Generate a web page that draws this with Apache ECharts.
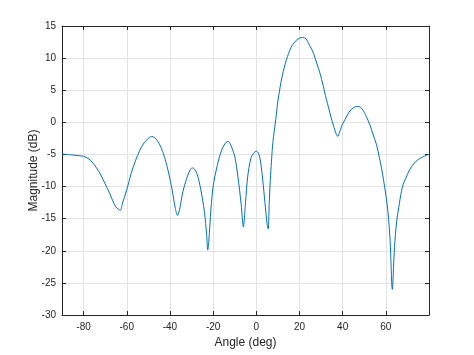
<!DOCTYPE html>
<html>
<head>
<meta charset="utf-8">
<script src="https://cdn.jsdelivr.net/npm/echarts@6/dist/echarts.min.js"></script>
<style>html,body{margin:0;padding:0;background:#fff}#c{width:474px;height:355px}</style>
</head>
<body>
<div id="c"></div>
<script>
const angles = [-90,-86,-82,-80,-78,-76,-74,-72,-70,-68,-66,-65,-64,-63,-62,-60,-58,-56,-54,-52,-50,-48.5,-47,-45,-43,-41,-39,-37.5,-36.5,-35.5,-34,-32,-30.5,-29.5,-28,-26.5,-25,-24,-23,-22.5,-22,-21,-20,-18,-16,-14,-13,-12,-10,-8.5,-7,-6,-5,-4,-2.5,-1,0,1,2,3,4,5,5.5,6,6.5,7,7.5,8,9,10,11,12,13,14,16,18,20,21.5,23,25,26.5,28,29.5,31,32,33,34,35,36,37,37.7,38.5,39.5,41,43,45,47,49,51,52.6,54,55.7,57,58,59,60,61,62,63,64,65,66,67.2,68,69,71,73,75,77,79,80];
const magnitudes = [-4.95,-5.05,-5.2,-5.3,-5.6,-6.2,-7.1,-8.2,-9.6,-11.0,-12.6,-13.2,-13.5,-13.7,-12.6,-10.5,-8.0,-6.0,-4.4,-3.2,-2.5,-2.2,-2.4,-3.3,-4.9,-7.3,-10.5,-13.4,-14.5,-13.5,-10.8,-8.5,-7.3,-7.1,-7.6,-9.2,-11.8,-14.0,-17.5,-19.9,-18.5,-13.5,-10.0,-6.6,-4.3,-3.1,-3.0,-3.4,-5.3,-8.5,-12.8,-16.3,-12.5,-8.5,-5.6,-4.7,-4.5,-4.8,-6.2,-9.0,-12.5,-15.8,-16.6,-12.5,-8.9,-6.2,-3.8,-2.2,0.4,3.3,5.4,7.2,8.6,9.8,11.6,12.6,13.1,13.2,13.0,11.8,10.75,9.2,7.65,5.7,4.2,2.9,1.6,0.3,-0.8,-1.8,-2.2,-1.6,-0.6,0.4,1.6,2.3,2.5,2.1,0.9,-0.4,-1.8,-3.5,-5.5,-7.1,-9.1,-11.3,-14.0,-18.5,-26.0,-19.5,-15.5,-13.2,-10.8,-9.7,-8.9,-7.4,-6.4,-5.8,-5.4,-5.1,-5.0];
const xTicks = [-80,-60,-40,-20,0,20,40,60];
const yTicks = [-30,-25,-20,-15,-10,-5,0,5,10,15];

const data = angles.map((a, i) => [a, magnitudes[i]]);
const axisColor = '#262626';
const font = 'Liberation Sans, Arial, Helvetica, sans-serif';
const chart = echarts.init(document.getElementById('c'), null, {renderer: 'canvas'});
const xBase = {
  type: 'value', min: -90, max: 80,
  axisLine: {show: true, onZero: false, lineStyle: {color: axisColor, width: 1}},
  axisTick: {show: true, inside: true, length: 4, customValues: xTicks, lineStyle: {color: axisColor}},
  splitLine: {show: false},
  axisLabel: {show: false}
};
const yBase = {
  type: 'value', min: -30, max: 15, interval: 5,
  axisLine: {show: true, onZero: false, lineStyle: {color: axisColor, width: 1}},
  axisTick: {show: true, inside: true, length: 4, lineStyle: {color: axisColor}},
  splitLine: {show: false},
  axisLabel: {show: false}
};
chart.setOption({
  animation: false,
  backgroundColor: '#fff',
  grid: {left: 62, top: 26, right: 45, bottom: 40, containLabel: false},
  xAxis: [
    Object.assign({}, xBase, {
      position: 'bottom',
      name: 'Angle (deg)', nameLocation: 'middle', nameGap: 22, nameMoveOverlap: false,
      nameTextStyle: {color: axisColor, fontSize: 12, fontFamily: font},
      splitLine: {show: true, lineStyle: {color: '#e3e3e3', width: 1}},
      axisLabel: {show: true, customValues: xTicks, color: axisColor, fontSize: 10, fontFamily: font, margin: 7}
    }),
    Object.assign({}, xBase, {position: 'top'})
  ],
  yAxis: [
    Object.assign({}, yBase, {
      position: 'left',
      name: 'Magnitude (dB)', nameLocation: 'middle', nameGap: 22, nameMoveOverlap: false,
      nameTextStyle: {color: axisColor, fontSize: 12, fontFamily: font},
      splitLine: {show: true, lineStyle: {color: '#e3e3e3', width: 1}},
      axisLabel: {show: true, color: axisColor, fontSize: 10, fontFamily: font, margin: 6}
    }),
    Object.assign({}, yBase, {position: 'right'})
  ],
  series: [{
    type: 'line', data: data, xAxisIndex: 0, yAxisIndex: 0,
    showSymbol: false, smooth: 0.3,
    lineStyle: {color: '#0072BD', width: 1}
  }]
});
</script>
</body>
</html>
